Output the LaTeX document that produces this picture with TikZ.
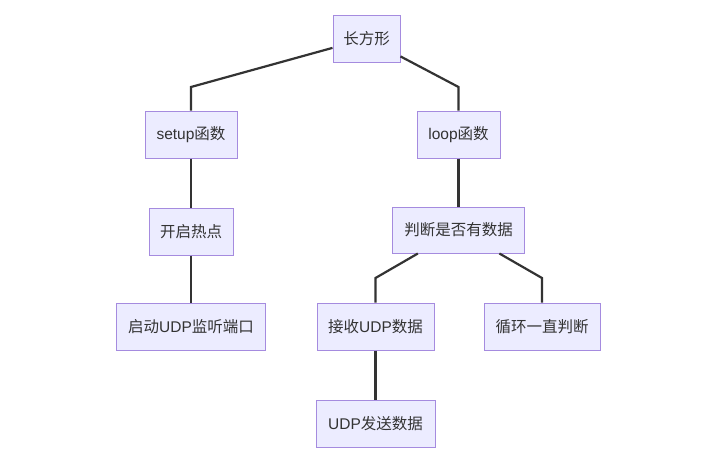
\documentclass[tikz,border=0pt]{standalone}
\usepackage{fontspec}
\setmainfont{Liberation Sans}
\newfontfamily\cjk{Noto Sans CJK SC}
\definecolor{boxfill}{HTML}{ECECFF}
\definecolor{boxline}{HTML}{A58BDF}
\definecolor{edgecol}{HTML}{333333}
\begin{document}
\begin{tikzpicture}[x=1pt,y=-1pt,
  box/.style={draw=boxline,fill=boxfill,line width=1pt,inner sep=0pt,minimum height=47pt,font=\fontsize{15.5}{18}\selectfont,text=edgecol},
  edge/.style={draw=edgecol,line width=2.2pt}]
\useasboundingbox (0,0) rectangle (720,455);
\node[box,minimum width=67pt] (top) at (366.5,38.5) {\cjk 长方形};
\node[box,minimum width=92pt] (setup) at (191,134.5) {setup\cjk 函数};
\node[box,minimum width=83pt] (loop) at (458.5,134.5) {loop\cjk 函数};
\node[box,minimum width=84pt] (hot) at (191,231.5) {\cjk 开启热点};
\node[box,minimum width=132pt,minimum height=46pt] (judge) at (458.5,230) {\cjk 判断是否有数据};
\node[box,minimum width=149pt] (listen) at (191,326.5) {{\cjk 启动}UDP{\cjk 监听端口}};
\node[box,minimum width=117pt] (recv) at (375.5,326.5) {{\cjk 接收}UDP{\cjk 数据}};
\node[box,minimum width=116pt] (loopj) at (542,326.5) {\cjk 循环一直判断};
\node[box,minimum width=119pt] (send) at (375.5,423.5) {UDP{\cjk 发送数据}};
\coordinate (c1) at (191,87);
\coordinate (c2) at (458.5,87);
\coordinate (c3) at (375.5,278);
\coordinate (c4) at (542,278);
\draw[edge] (top) -- (c1) -- (setup);
\draw[edge] (top) -- (c2) -- (loop);
\draw[edge] (setup) -- (hot);
\draw[edge] (hot) -- (listen);
\draw[edge] (loop) -- (judge);
\draw[edge] (judge) -- (c3) -- (recv);
\draw[edge] (judge) -- (c4) -- (loopj);
\draw[edge] (recv) -- (send);
\end{tikzpicture}
\end{document}
